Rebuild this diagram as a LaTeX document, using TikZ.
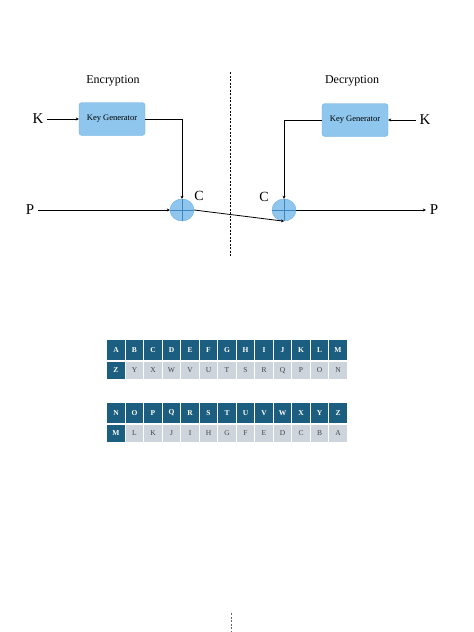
\documentclass[tikz,border=0pt]{standalone}
\usepackage{fontspec}
\setmainfont{Liberation Serif}
\usetikzlibrary{shapes.geometric,arrows.meta}
\definecolor{boxfill}{HTML}{8EC6EE}
\definecolor{boxline}{HTML}{6AAEE2}
\definecolor{crossline}{HTML}{3F86C0}
\definecolor{headblue}{HTML}{1B5E80}
\definecolor{cellgray}{HTML}{CED4DB}
\definecolor{lettergray}{HTML}{40454B}
\tikzset{
	keygen/.style={draw=boxline, fill=boxfill, rounded corners=3pt, minimum width=66pt, minimum height=33pt, inner sep=0pt, font=\fontsize{8.5}{10}\selectfont},
	xorc/.style={ellipse, draw=boxline, fill=boxfill, minimum width=24pt, minimum height=22pt, inner sep=0pt,
		path picture={\draw[crossline, line width=0.5pt] (path picture bounding box.north) -- (path picture bounding box.south) (path picture bounding box.west) -- (path picture bounding box.east);}},
	bigletter/.style={font=\fontsize{15}{16}\selectfont, inner sep=0pt, outer sep=4pt},
	title/.style={font=\fontsize{12}{14}\selectfont, inner sep=0pt},
	flow/.style={line width=0.8pt, -{Stealth[length=3pt,width=3pt]}},
	cellhead/.style={fill=headblue, text=white, minimum width=17.5pt, minimum height=20pt, inner sep=0pt, font=\fontsize{7.5}{8}\selectfont\bfseries},
	cellbody/.style={fill=cellgray, text=lettergray, minimum width=17.5pt, minimum height=17pt, inner sep=0pt, font=\fontsize{7.5}{8}\selectfont},
	cellkey/.style={cellbody, fill=headblue, text=white, font=\fontsize{7.5}{8}\selectfont\bfseries}
}
\begin{document}
\begin{tikzpicture}[x=1pt, y=-1pt]
	\useasboundingbox (0,0) rectangle (474,632);
	% divider
	\draw[dashed, line width=0.8pt, dash pattern=on 2pt off 1.5pt] (230,72) -- (230,256);
	\draw[dashed, line width=0.6pt, dash pattern=on 2pt off 1.5pt, black!60] (231,613) -- (231,632);
	% encryption side
	\node[title] (enc) at (113,81) {Encryption};
	\node[keygen] (kgl) at (112,119) {Key Generator};
	\node[bigletter] (kl) at (38,119) {K};
	\node[xorc] (xl) at (182,210) {};
	\node[bigletter] (pl) at (30,210) {P};
	\node[title, font=\fontsize{14}{15}\selectfont] (cl) at (199,196) {C};
	\draw[flow] (kl) -- (kgl);
	\draw[flow] (kgl.east) -| (xl.north);
	\draw[flow] (pl) -- (xl);
	% decryption side
	\node[title] (dec) at (352,81) {Decryption};
	\node[keygen] (kgr) at (355,120) {Key Generator};
	\node[bigletter] (kr) at (425,120) {K};
	\node[xorc] (xr) at (284,210) {};
	\node[bigletter] (pr) at (434,210) {P};
	\node[title, font=\fontsize{14}{15}\selectfont] (cr) at (264,197) {C};
	\draw[flow] (kr) -- (kgr);
	\draw[flow] (kgr.west) -| (xr.north);
	\draw[flow] (xr) -- (pr);
	% channel
	\draw[flow] (xl.east) -- (xr.south);
	% atbash tables
	\foreach \top/\bot [count=\i] in {A/Z,B/Y,C/X,D/W,E/V,F/U,G/T,H/S,I/R,J/Q,K/P,L/O,M/N}{
		\node[cellhead] (ta\i) at ({116+18.5*(\i-1)},350) {\top};
		\ifnum\i=1
			\node[cellkey] (ba\i) at ({116+18.5*(\i-1)},370.5) {\bot};
		\else
			\node[cellbody] (ba\i) at ({116+18.5*(\i-1)},370.5) {\bot};
		\fi
	}
	\foreach \top/\bot [count=\i] in {N/M,O/L,P/K,Q/J,R/I,S/H,T/G,U/F,V/E,W/D,X/C,Y/B,Z/A}{
		\node[cellhead] (tb\i) at ({116+18.5*(\i-1)},413) {\top};
		\ifnum\i=1
			\node[cellkey] (bb\i) at ({116+18.5*(\i-1)},433) {\bot};
		\else
			\node[cellbody] (bb\i) at ({116+18.5*(\i-1)},433) {\bot};
		\fi
	}
\end{tikzpicture}
\end{document}
